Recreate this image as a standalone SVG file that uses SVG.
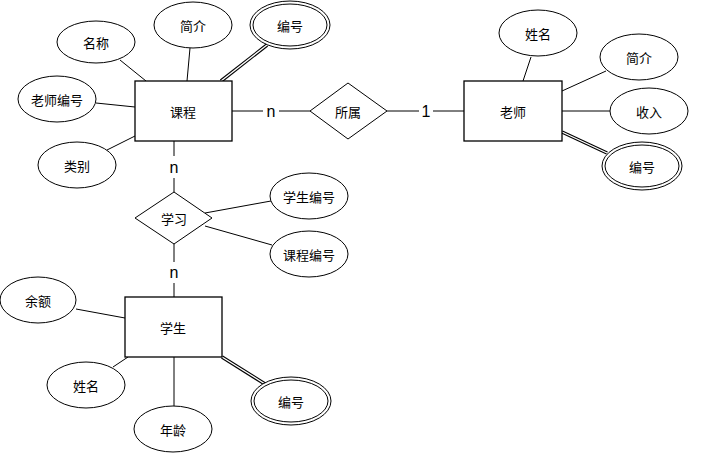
<svg xmlns="http://www.w3.org/2000/svg" width="702" height="461" viewBox="0 0 702 461">
<style>
.e{fill:#fff;stroke:#000;stroke-width:1}
.r{fill:#fff;stroke:#000;stroke-width:1.3}
.l{stroke:#000;stroke-width:1;fill:none}
.dl{stroke:#000;stroke-width:3.5;fill:none}
.dw{stroke:#fff;stroke-width:1.3;fill:none}
text{font-family:"Noto Sans CJK SC","Liberation Sans",sans-serif;font-size:13px;text-anchor:middle;dominant-baseline:central;fill:#000}
.c{font-family:"Liberation Sans",sans-serif;font-size:16px}
</style>
<rect width="702" height="461" fill="#fff"/>
<g id="connectors">
<line class="l" x1="120" y1="60" x2="146" y2="81"/>
<line class="l" x1="190" y1="48" x2="187" y2="81"/>
<line class="dl" x1="267" y1="45" x2="221" y2="81"/><line class="dw" x1="267" y1="45" x2="221" y2="81"/>
<line class="l" x1="96" y1="103" x2="135" y2="107"/>
<line class="l" x1="107" y1="150" x2="135" y2="136"/>
<line class="l" x1="174" y1="141" x2="174" y2="156"/>
<line class="l" x1="174" y1="178" x2="174" y2="192"/>
<line class="l" x1="205" y1="213" x2="271" y2="201"/>
<line class="l" x1="205" y1="226" x2="272" y2="245"/>
<line class="l" x1="174" y1="244" x2="174" y2="262"/>
<line class="l" x1="174" y1="283" x2="174" y2="297"/>
<line class="l" x1="76" y1="309" x2="125" y2="318"/>
<line class="l" x1="113" y1="367" x2="128" y2="357"/>
<line class="l" x1="174" y1="357" x2="174" y2="406"/>
<line class="dl" x1="222" y1="357" x2="265" y2="384"/><line class="dw" x1="222" y1="357" x2="265" y2="384"/>
<line class="l" x1="232" y1="111" x2="263" y2="111"/>
<line class="l" x1="279" y1="111" x2="310" y2="111"/>
<line class="l" x1="387" y1="111" x2="419" y2="111"/>
<line class="l" x1="433" y1="111" x2="464" y2="111"/>
<line class="l" x1="531" y1="57" x2="523" y2="81"/>
<line class="l" x1="606" y1="71" x2="562" y2="91"/>
<line class="l" x1="562" y1="111" x2="610" y2="111"/>
<line class="dl" x1="562" y1="132" x2="607" y2="153"/><line class="dw" x1="562" y1="132" x2="607" y2="153"/>
<text class="c" x="271" y="111">n</text>
<text class="c" x="426" y="111">1</text>
<text class="c" x="174" y="167">n</text>
<text class="c" x="174" y="272">n</text>
</g>
<g id="kecheng"><rect class="r" x="135" y="81" width="97" height="60"/><text x="183" y="111">课程</text></g>
<g id="kc-mingcheng"><ellipse class="e" cx="96" cy="42" rx="39" ry="21"/><text x="96" y="42">名称</text></g>
<g id="kc-jianjie"><ellipse class="e" cx="193" cy="25" rx="39" ry="23"/><text x="193" y="25">简介</text></g>
<g id="kc-bianhao"><ellipse class="e" cx="290" cy="25" rx="40" ry="24"/><ellipse class="e" cx="290" cy="25" rx="37" ry="21"/><text x="290" y="25">编号</text></g>
<g id="kc-laoshibianhao"><ellipse class="e" cx="57" cy="99" rx="39" ry="23"/><text x="57" y="99">老师编号</text></g>
<g id="kc-leibie"><ellipse class="e" cx="77" cy="165" rx="39" ry="23"/><text x="77" y="165">类别</text></g>
<g id="xuexi"><polygon class="e" points="174,192 212,218 174,244 135,218"/><text x="174" y="218">学习</text></g>
<g id="xx-xueshengbianhao"><ellipse class="e" cx="309" cy="196" rx="39" ry="23"/><text x="309" y="196">学生编号</text></g>
<g id="xx-kechengbianhao"><ellipse class="e" cx="309" cy="254" rx="39" ry="23"/><text x="309" y="254">课程编号</text></g>
<g id="xuesheng"><rect class="r" x="125" y="297" width="97" height="60"/><text x="173" y="327">学生</text></g>
<g id="xs-yue"><ellipse class="e" cx="38" cy="300" rx="38" ry="23"/><text x="38" y="300">余额</text></g>
<g id="xs-xingming"><ellipse class="e" cx="86" cy="385" rx="39" ry="23"/><text x="86" y="385">姓名</text></g>
<g id="xs-nianling"><ellipse class="e" cx="173" cy="429" rx="39" ry="23"/><text x="173" y="429">年龄</text></g>
<g id="xs-bianhao"><ellipse class="e" cx="291" cy="401" rx="40" ry="24"/><ellipse class="e" cx="291" cy="401" rx="37" ry="21"/><text x="291" y="401">编号</text></g>
<g id="suoshu"><polygon class="e" points="348,83 387,111 348,139 310,111"/><text x="348" y="111">所属</text></g>
<g id="laoshi"><rect class="r" x="464" y="81" width="98" height="60"/><text x="513" y="111">老师</text></g>
<g id="ls-xingming"><ellipse class="e" cx="538" cy="33" rx="39" ry="23"/><text x="538" y="33">姓名</text></g>
<g id="ls-jianjie"><ellipse class="e" cx="639" cy="57" rx="39" ry="23"/><text x="639" y="57">简介</text></g>
<g id="ls-shouru"><ellipse class="e" cx="649" cy="111" rx="39" ry="23"/><text x="649" y="111">收入</text></g>
<g id="ls-bianhao"><ellipse class="e" cx="642" cy="166" rx="40" ry="24"/><ellipse class="e" cx="642" cy="166" rx="37" ry="21"/><text x="642" y="166">编号</text></g>
</svg>
